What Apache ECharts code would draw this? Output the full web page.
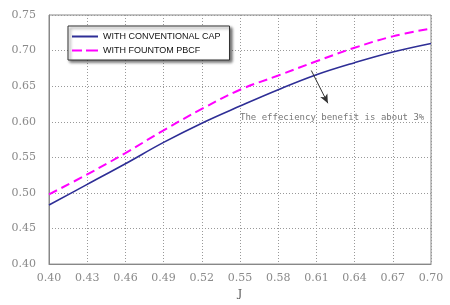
<!DOCTYPE html>
<html><head><meta charset="utf-8">
<script src="https://cdn.jsdelivr.net/npm/echarts@6/dist/echarts.min.js"></script>
<style>html,body{margin:0;padding:0;background:#fff}#c{width:450px;height:305px}</style>
</head><body><div id="c"></div>
<script>
var jValues = [0.40,0.43,0.46,0.49,0.52,0.55,0.58,0.61,0.64,0.67,0.70];
var conventional = [0.483,0.512,0.541,0.571,0.598,0.622,0.645,0.666,0.683,0.698,0.710];
var fountom = [0.498,0.526,0.556,0.588,0.618,0.645,0.665,0.685,0.704,0.720,0.731];
var seriesNames = ['WITH CONVENTIONAL CAP','WITH FOUNTOM PBCF'];
var annotation = 'The effeciency benefit is about 3%';
var arrowFrom = [0.606,0.672], arrowTo = [0.619,0.626];

function pairs(ys){ return jValues.map(function(x,i){return [x,ys[i]];}); }
var chart = echarts.init(document.getElementById('c'));
var labelStyle = {color:'#8a8a8a', fontFamily:'DejaVu Serif', fontSize:11};
chart.setOption({
  animation:false,
  grid:{left:49,right:19,top:15,bottom:30,show:true,borderColor:'#888',borderWidth:1},
  legend:{
    left:68, top:26, orient:'vertical', itemGap:5, itemWidth:26, itemHeight:10,
    backgroundColor:'#fff', borderColor:'#333', borderWidth:1, padding:[6,9,5,4],
    shadowColor:'rgba(0,0,0,0.55)', shadowBlur:3, shadowOffsetX:2, shadowOffsetY:2,
    textStyle:{fontFamily:'Liberation Sans', fontSize:9, color:'#111'},
    data:[{name:seriesNames[0], icon:'path://M0,4H26V6H0Z'},{name:seriesNames[1], icon:'path://M0,4H10V6H0ZM14,4H26V6H14Z'}]
  },
  xAxis:{type:'value', min:0.40, max:0.70, interval:0.03,
    name:'J', nameLocation:'middle', nameGap:20,
    nameTextStyle:{color:'#555', fontFamily:'DejaVu Serif', fontSize:11, padding:[4,0,0,0]},
    axisLine:{show:true,lineStyle:{color:'#888'}}, axisTick:{show:false},
    axisLabel:Object.assign({margin:9, formatter:function(v){return v.toFixed(2);}}, labelStyle),
    splitLine:{show:true,lineStyle:{color:'#999',type:[1,2],width:1}}},
  yAxis:{type:'value', min:0.40, max:0.75, interval:0.05,
    axisLine:{show:true,lineStyle:{color:'#888'}}, axisTick:{show:false},
    axisLabel:Object.assign({margin:13, formatter:function(v){return v.toFixed(2);}}, labelStyle),
    splitLine:{show:true,lineStyle:{color:'#999',type:[1,2],width:1}}},
  series:[
    {name:seriesNames[0], type:'line', data:pairs(conventional), smooth:0.4, showSymbol:false,
     lineStyle:{color:'#2e2e96', width:1.6}, itemStyle:{color:'#2e2e96'},
     markLine:{silent:true, symbol:['none','arrow'], symbolSize:[6,9],
       lineStyle:{color:'#333', width:1, type:'solid'}, label:{show:false},
       data:[[{coord:arrowFrom},{coord:arrowTo}]]}},
    {name:seriesNames[1], type:'line', data:pairs(fountom), smooth:0.4, showSymbol:false,
     lineStyle:{color:'#ff00ff', width:2, type:[9,5]}, itemStyle:{color:'#ff00ff'}}
  ],
  graphic:[{type:'text', left:240, top:113, style:{text:annotation, fill:'#777', font:'9px "DejaVu Sans Mono"'}}]
});
</script></body></html>
